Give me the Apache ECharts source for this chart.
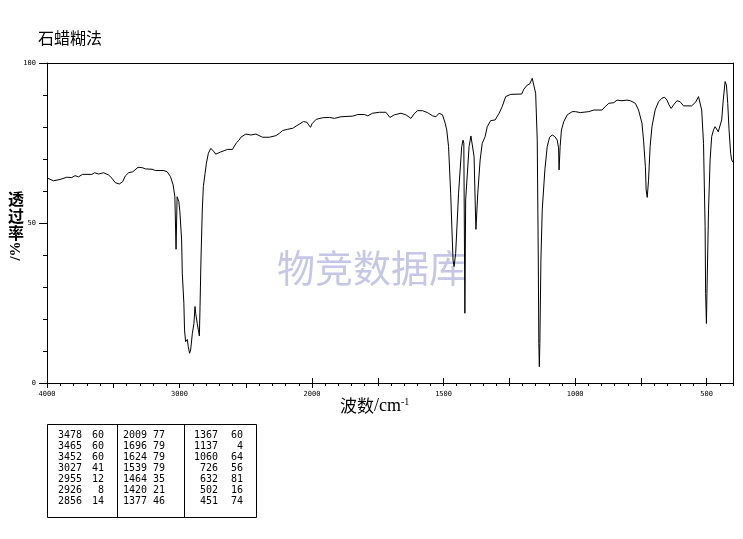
<!DOCTYPE html>
<html><head><meta charset="utf-8">
<script src="https://cdn.jsdelivr.net/npm/echarts@6/dist/echarts.min.js"></script>
<style>html,body{margin:0;padding:0;background:#fff}#c{width:743px;height:539px}</style>
</head><body><div id="c"></div>
<script>
// Spectrum (wavenumber in cm-1, transmittance in %)
const wavenumbers = [3995,3952,3901,3889,3851,3813,3788,3763,3732,3661,3641,3611,3573,3535,3510,3485,3454,3429,3409,3384,3353,3313,3282,3257,3207,3181,3118,3093,3068,3048,3035,3028,3026,3021,3018,3005,2997,2984,2979,2967,2962,2954,2941,2934,2924,2916,2903,2891,2883,2878,2866,2858,2850,2845,2838,2828,2820,2807,2797,2782,2764,2752,2739,2727,2714,2689,2663,2638,2600,2588,2570,2550,2537,2499,2461,2423,2373,2322,2272,2247,2221,2183,2145,2120,2095,2065,2039,2024,2011,2000,1984,1959,1934,1915,1890,1845,1826,1801,1788,1770,1744,1719,1704,1687,1662,1643,1624,1612,1599,1580,1561,1542,1529,1517,1513,1504,1494,1488,1481,1473,1464,1460,1454,1443,1431,1426,1423,1419,1416,1403,1396,1390,1384,1380,1377,1370,1361,1353,1342,1334,1321,1304,1289,1277,1264,1245,1203,1195,1182,1173,1163,1157,1150,1144,1140,1138,1136,1134,1130,1125,1115,1106,1097,1087,1077,1068,1063,1061,1057,1052,1043,1030,1011,999,980,948,929,898,885,872,853,841,822,803,790,771,759,746,740,733,730,726,721,715,708,696,683,670,660,651,643,635,626,613,601,588,557,541,531,525,519,512,506,504,501,499,493,487,481,474,468,462,456,449,443,437,430,425,420,415,409,405,400];
const transmittance = [64.0,63.2,63.6,63.1,64.3,64.2,64.8,64.4,65.2,65.2,65.7,65.3,65.7,65.0,64.0,62.6,62.2,62.9,64.7,65.7,66.0,67.4,67.3,66.9,66.8,66.4,66.4,66.0,64.5,61.9,58.2,58.2,41.8,41.8,58.2,56.7,53.5,44.7,34.3,24.9,16.6,12.9,13.6,11.4,9.3,10.3,15.5,18.6,23.9,21.8,18.6,16.6,14.7,23.9,38.4,54.1,61.4,65.5,68.7,71.8,73.3,73.0,72.3,71.5,71.8,72.2,72.6,73.0,73.0,73.6,75.1,75.9,76.8,77.8,77.5,77.8,76.8,76.8,77.3,78.0,78.9,79.3,79.6,80.3,80.9,81.7,81.5,80.6,79.9,81.0,82.4,82.9,83.0,82.7,83.2,83.4,83.9,83.9,83.5,84.3,84.6,84.6,83.0,83.8,84.3,83.8,82.7,84.1,85.1,85.1,84.5,83.5,83.2,84.3,84.8,83.8,81.2,79.1,73.9,59.3,38.4,36.4,40.5,59.3,73.9,75.9,74.9,21.8,57.2,73.9,77.2,77.0,70.7,57.2,48.0,59.3,69.7,74.9,77.0,80.1,82.0,82.2,84.3,86.4,89.5,90.2,90.3,91.8,93.1,93.4,95.2,94.7,90.5,75.9,38.4,12.4,5.1,12.4,38.4,54.1,66.6,73.9,76.8,77.5,77.0,75.9,73.5,66.6,73.9,79.1,81.7,83.8,84.8,84.8,84.5,84.8,85.3,85.3,86.4,87.4,87.6,88.4,88.2,88.4,88.2,87.4,85.3,81.2,75.9,67.6,60.3,58.0,63.4,73.9,80.1,85.3,87.9,89.0,89.3,88.4,86.9,85.8,86.9,88.2,87.9,86.6,86.6,87.9,89.5,89.0,85.3,74.9,48.9,28.0,18.6,28.0,54.1,69.7,77.0,79.1,80.1,79.6,78.5,79.1,82.2,88.4,94.2,93.1,87.4,79.1,71.8,69.7,69.0];

// Peak table
const peakWavenumbers = [3478,3465,3452,3027,2955,2926,2856,2009,1696,1624,1539,1464,1420,1377,1367,1137,1060,726,632,502,451];
const peakValues = [60,60,60,41,12,8,14,77,79,79,79,35,21,46,60,4,64,56,81,16,74];

// Tick labels
const xTickLabels = [4000,3000,2000,1500,1000,500];
const xMajorTicksLow = [500,750,1000,1250,1500,1750,2000];
const yTickLabels = [0,50,100];

const title = '石蜡糊法';
const watermark = '物竞数据库';

const pairs = wavenumbers.map((w,i)=>[w, transmittance[i]]);
const segHigh = pairs.filter(p=>p[0]>=2000);
const segLow = pairs.filter(p=>p[0]<=2000);

const tickFont = {fontSize:7, fontFamily:'DejaVu Sans Mono', color:'#000'};
const black = {color:'#000', width:1};

const graphics = [];
graphics.push({type:'text', z:0, style:{text:watermark, x:372, y:268, textAlign:'center', align:'center', textVerticalAlign:'middle', verticalAlign:'middle', fontSize:38, fontFamily:'Noto Sans CJK SC', fill:'#c6c6e8'}});
graphics.push({type:'text', z:10, style:{text:title, x:38, y:38, textVerticalAlign:'middle', verticalAlign:'middle', fontSize:16, fontFamily:'Noto Sans CJK SC', fill:'#000'}});
graphics.push({type:'text', z:10, style:{text:'透\n过\n率', x:16, y:190, textAlign:'center', align:'center', textVerticalAlign:'top', verticalAlign:'top', fontSize:16, lineHeight:17, fontWeight:'bold', fontFamily:'Noto Sans CJK SC', fill:'#000'}});
graphics.push({type:'text', z:10, x:16, y:251, rotation:Math.PI/2, style:{text:'/%', x:0, y:0, textAlign:'center', align:'center', textVerticalAlign:'middle', verticalAlign:'middle', fontSize:15, fontWeight:'bold', fontFamily:'Liberation Serif', fill:'#000'}});
graphics.push({type:'text', z:10, style:{text:'{a|波数}{b|/cm}{c|-1}', x:340, y:406, textVerticalAlign:'middle', verticalAlign:'middle', rich:{
  a:{fontSize:17, fontFamily:'Noto Sans CJK SC', fill:'#000', color:'#000'},
  b:{fontSize:18, fontFamily:'Liberation Serif', fill:'#000', color:'#000'},
  c:{fontSize:10, fontFamily:'Liberation Serif', fill:'#000', color:'#000', verticalAlign:'top', lineHeight:10}
}}});
// table frame
graphics.push({type:'rect', z:10, shape:{x:47.5, y:424.5, width:209, height:93}, style:{fill:'none', stroke:'#000', lineWidth:1}});
[117.5,184.5].forEach(x=>graphics.push({type:'line', z:10, shape:{x1:x,y1:424.5,x2:x,y2:517.5}, style:{stroke:'#000', lineWidth:1}}));
const numRight = [82,147,218], valRight = [104,165,243];
peakWavenumbers.forEach((w,i)=>{
  const col = Math.floor(i/7), row = i%7;
  const y = 435 + row*11.1;
  const st = {fontSize:10, fontFamily:'DejaVu Sans Mono', fill:'#000', textAlign:'right', align:'right', textVerticalAlign:'middle', verticalAlign:'middle'};
  graphics.push({type:'text', z:10, style:Object.assign({text:String(w), x:numRight[col], y:y}, st)});
  graphics.push({type:'text', z:10, style:Object.assign({text:String(peakValues[i]), x:valRight[col], y:y}, st)});
});

const chart = echarts.init(document.getElementById('c'), null, {renderer:'canvas'});
chart.setOption({
  animation:false,
  backgroundColor:'#fff',
  grid:[{left:47, top:63, width:265, height:320}, {left:312, top:63, width:421, height:320}],
  xAxis:[
    {gridIndex:0, type:'value', min:2000, max:4000, inverse:true, interval:500,
     axisLine:{onZero:false, lineStyle:black}, axisTick:{length:5, lineStyle:black},
     minorTick:{show:true, splitNumber:5, length:3, lineStyle:black},
     splitLine:{show:false}, minorSplitLine:{show:false},
     axisLabel:Object.assign({margin:8, formatter:v=>(v>2000 && xTickLabels.includes(v))?String(v):''}, tickFont)},
    {gridIndex:1, type:'value', min:400, max:2000, inverse:true, interval:50,
     axisLine:{onZero:false, lineStyle:black}, axisTick:{length:3, lineStyle:black},
     splitLine:{show:false},
     axisLabel:Object.assign({margin:8, formatter:v=>xTickLabels.includes(v)?String(v):''}, tickFont)},
    {gridIndex:1, type:'value', min:400, max:2000, inverse:true,
     axisLine:{show:false}, axisTick:{show:true, length:5, lineStyle:black, customValues:xMajorTicksLow},
     splitLine:{show:false}, axisLabel:{show:false}},
    {gridIndex:0, type:'value', position:'top', min:2000, max:4000, inverse:true,
     axisLine:{show:true, onZero:false, lineStyle:black}, axisTick:{show:false}, axisLabel:{show:false}, splitLine:{show:false}},
    {gridIndex:1, type:'value', position:'top', min:400, max:2000, inverse:true,
     axisLine:{show:true, onZero:false, lineStyle:black}, axisTick:{show:false}, axisLabel:{show:false}, splitLine:{show:false}}
  ],
  yAxis:[
    {gridIndex:0, type:'value', min:0, max:100, interval:50,
     axisLine:{show:true, onZero:false, lineStyle:black}, axisTick:{show:true, length:8, lineStyle:black},
     minorTick:{show:true, splitNumber:5, length:4, lineStyle:black},
     splitLine:{show:false}, minorSplitLine:{show:false},
     axisLabel:Object.assign({margin:11, formatter:v=>yTickLabels.includes(v)?String(v):''}, tickFont)},
    {gridIndex:1, type:'value', min:0, max:100, position:'right',
     axisLine:{show:true, onZero:false, lineStyle:black}, axisTick:{show:false}, axisLabel:{show:false}, splitLine:{show:false}}
  ],
  series:[
    {type:'line', xAxisIndex:0, yAxisIndex:0, data:segHigh, showSymbol:false, symbol:'none', z:5, lineStyle:black, silent:true},
    {type:'line', xAxisIndex:1, yAxisIndex:1, data:segLow, showSymbol:false, symbol:'none', z:5, lineStyle:black, silent:true}
  ],
  graphic:{elements:graphics}
});
</script></body></html>
